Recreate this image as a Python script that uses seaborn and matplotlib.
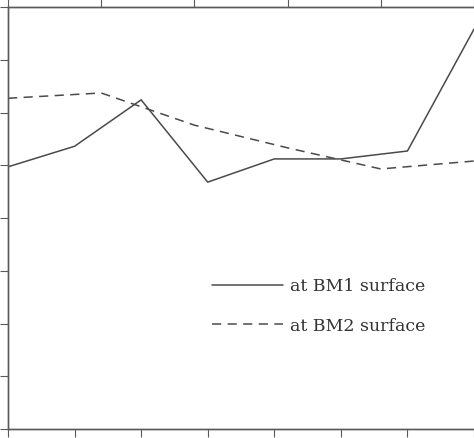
import numpy as np
import pandas as pd
import matplotlib
matplotlib.use("Agg")
import matplotlib.pyplot as plt
import seaborn as sns

# values (no tick labels visible, so unitless grid positions)
bm1_x = [0, 1, 2, 3, 4, 5, 6, 7]
bm1_y = [4.97, 5.36, 6.24, 4.68, 5.12, 5.12, 5.27, 7.58]
bm2_x = [0, 1, 2, 3, 4, 5]
bm2_y = [6.27, 6.37, 5.76, 5.33, 4.93, 5.08]
labels = ["at BM1 surface", "at BM2 surface"]

sns.set_style("ticks")
plt.rcParams['font.family'] = ['DejaVu Serif']

W, H = 474, 438
fig = plt.figure(figsize=(W / 100, H / 100), dpi=100)
ax = fig.add_axes([8 / W, 9 / H, (474 - 8) / W, (429 - 7) / H])
ax2 = ax.twiny()

col = "#4a4a4a"
df1 = pd.DataFrame({"x": bm1_x, "y": bm1_y})
df2 = pd.DataFrame({"x": bm2_x, "y": bm2_y})
sns.lineplot(data=df1, x="x", y="y", ax=ax, color=col, lw=1.1, label=labels[0], legend=False)
sns.lineplot(data=df2, x="x", y="y", ax=ax2, color=col, lw=1.1, dashes=False, label=labels[1], legend=False)
ax2.lines[0].set_dashes((6, 4.2))

ax.set_xlim(0, 7)
ax2.set_xlim(0, 5)
ax.set_ylim(0, 8)
ax.set_xticks(range(8))
ax2.set_xticks(range(6))
ax.set_yticks(range(9))

for a in (ax, ax2):
    a.set_xlabel("")
    a.set_ylabel("")
    a.spines["right"].set_visible(False)
    for s in a.spines.values():
        s.set_color("#5a5a5a")
        s.set_linewidth(1.0)
    a.tick_params(direction="out", length=6, width=0.8, color="#5a5a5a",
                  labelbottom=False, labelleft=False, labeltop=False, labelright=False)
ax.tick_params(top=False)
ax2.tick_params(bottom=False, left=False, right=False, top=True)

h1, l1 = ax.get_legend_handles_labels()
h2, l2 = ax2.get_legend_handles_labels()
leg = ax2.legend(h1 + h2, l1 + l2, loc="upper left", frameon=False,
                 bbox_to_anchor=(212 / W, 1 - 278 / H), bbox_transform=fig.transFigure,
                 borderpad=0, borderaxespad=0, handlelength=4.1, handletextpad=0.4,
                 labelspacing=1.3, fontsize=12.5)
for t in leg.get_texts():
    t.set_color("#333333")

fig.savefig("out.png", dpi=100)
